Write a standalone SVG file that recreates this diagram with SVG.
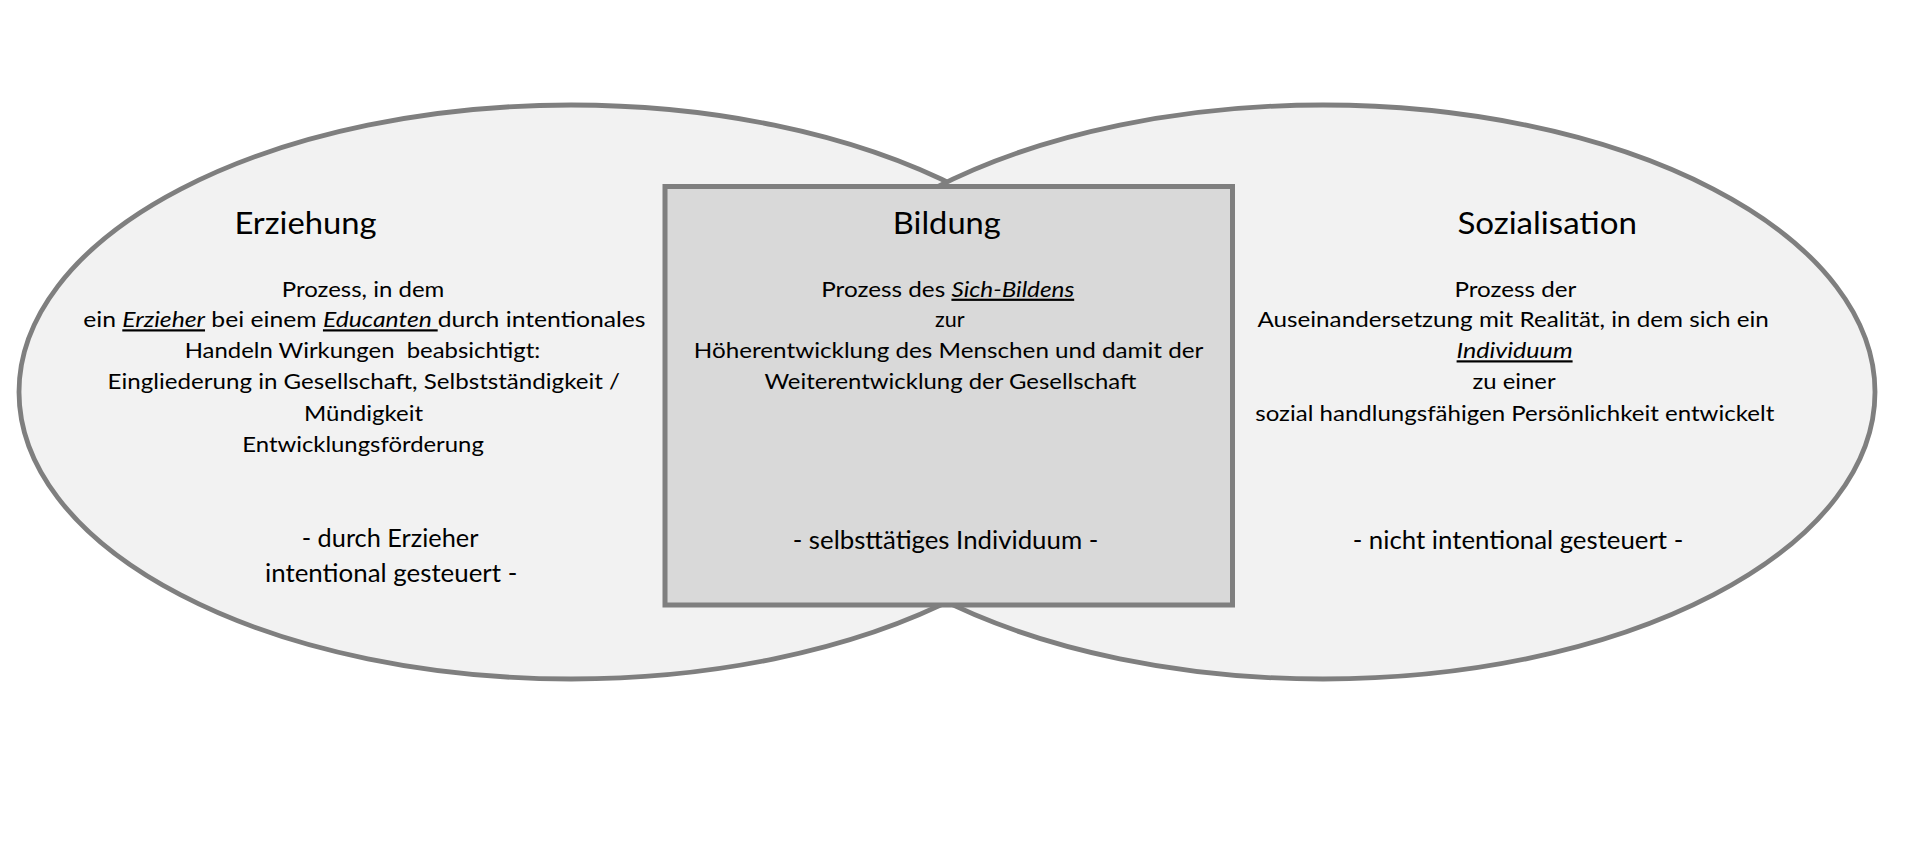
<svg xmlns="http://www.w3.org/2000/svg" width="1908" height="852" viewBox="0 0 1908 852">
<style>
.ell{fill:#f2f2f2;stroke:#7f7f7f;stroke-width:4.8}
.box{fill:#d9d9d9;stroke:#7f7f7f;stroke-width:5}
text{font-family:Lato,"Open Sans","Liberation Sans",sans-serif;fill:#000}
.t{font-size:30px}
.b{font-size:22px}
.l{font-size:25.5px}
.u{font-style:italic;text-decoration:underline}
</style>
<rect width="1908" height="852" fill="#ffffff"/>
<g id="node-erziehung">
<ellipse class="ell" cx="571" cy="392" rx="552" ry="287"/>
</g>
<g id="node-sozialisation">
<ellipse class="ell" cx="1323" cy="392" rx="552" ry="287"/>
</g>
<g id="node-bildung">
<rect class="box" x="665" y="186.5" width="567.5" height="418.5"/>
</g>
<g id="connectors"></g>
<g id="labels-erziehung">
<text class="t" x="234.4" y="234" textLength="142.2" lengthAdjust="spacingAndGlyphs">Erziehung</text>
<text class="b" x="281.8" y="296.7" textLength="162.5" lengthAdjust="spacingAndGlyphs">Prozess, in dem</text>
<text class="b" x="83.2" y="327.3" textLength="562.4" lengthAdjust="spacingAndGlyphs" xml:space="preserve">ein <tspan class="u">Erzieher</tspan> bei einem <tspan class="u">Educanten </tspan>durch intentionales</text>
<text class="b" x="184.7" y="358.3" textLength="355.6" lengthAdjust="spacingAndGlyphs" xml:space="preserve">Handeln Wirkungen  beabsichtigt:</text>
<text class="b" x="107.6" y="389" textLength="512.4" lengthAdjust="spacingAndGlyphs">Eingliederung in Gesellschaft, Selbstständigkeit /</text>
<text class="b" x="304" y="420.5" textLength="119" lengthAdjust="spacingAndGlyphs">Mündigkeit</text>
<text class="b" x="242.3" y="451.5" textLength="241.5" lengthAdjust="spacingAndGlyphs">Entwicklungsförderung</text>
<text class="l" x="301.7" y="547" textLength="176.7" lengthAdjust="spacingAndGlyphs">- durch Erzieher</text>
<text class="l" x="265" y="581.5" textLength="252.3" lengthAdjust="spacingAndGlyphs">intentional gesteuert -</text>
</g>
<g id="labels-bildung">
<text class="t" x="892.8" y="234" textLength="108" lengthAdjust="spacingAndGlyphs">Bildung</text>
<text class="b" x="821.2" y="296.7" textLength="253" lengthAdjust="spacingAndGlyphs" xml:space="preserve">Prozess des <tspan class="u">Sich-Bildens</tspan></text>
<text class="b" x="935" y="327.3" textLength="29.5" lengthAdjust="spacingAndGlyphs">zur</text>
<text class="b" x="693.8" y="358.3" textLength="509.6" lengthAdjust="spacingAndGlyphs">Höherentwicklung des Menschen und damit der</text>
<text class="b" x="764.4" y="389" textLength="372" lengthAdjust="spacingAndGlyphs">Weiterentwicklung der Gesellschaft</text>
<text class="l" x="792.7" y="549.3" textLength="305.6" lengthAdjust="spacingAndGlyphs">- selbsttätiges Individuum -</text>
</g>
<g id="labels-sozialisation">
<text class="t" x="1457.4" y="234" textLength="179.6" lengthAdjust="spacingAndGlyphs">Sozialisation</text>
<text class="b" x="1454.5" y="296.7" textLength="121.8" lengthAdjust="spacingAndGlyphs">Prozess der</text>
<text class="b" x="1257.4" y="327.3" textLength="511.5" lengthAdjust="spacingAndGlyphs">Auseinandersetzung mit Realität, in dem sich ein</text>
<text class="b" x="1456.6" y="358.3" textLength="116" lengthAdjust="spacingAndGlyphs"><tspan class="u">Individuum</tspan></text>
<text class="b" x="1472.6" y="389" textLength="83" lengthAdjust="spacingAndGlyphs">zu einer</text>
<text class="b" x="1255.3" y="420.5" textLength="519" lengthAdjust="spacingAndGlyphs">sozial handlungsfähigen Persönlichkeit entwickelt</text>
<text class="l" x="1352.7" y="549.3" textLength="330.6" lengthAdjust="spacingAndGlyphs">- nicht intentional gesteuert -</text>
</g>
</svg>
